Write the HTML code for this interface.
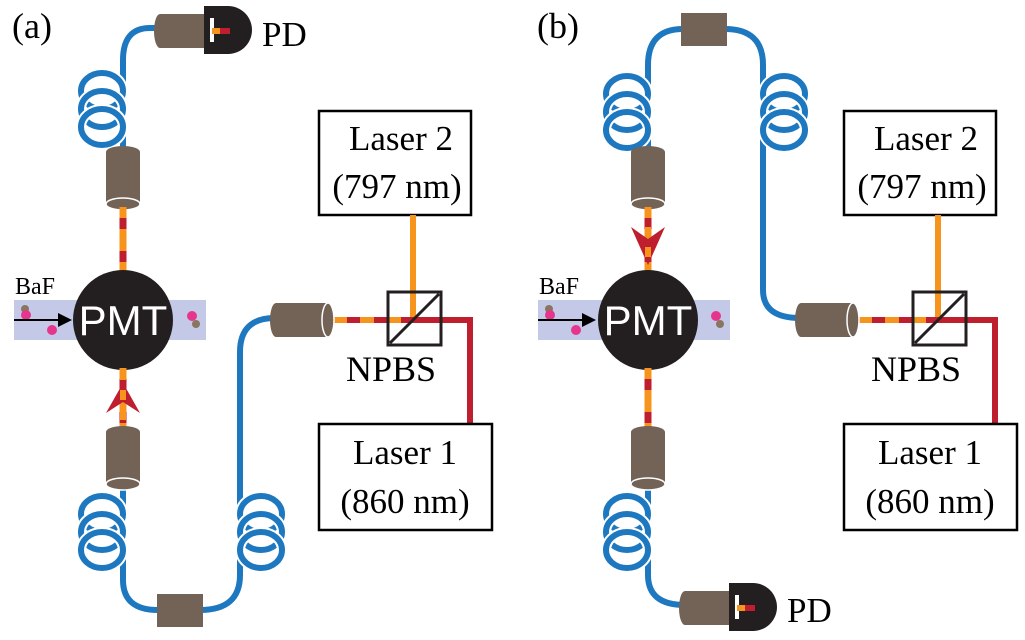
<!DOCTYPE html>
<html><head><meta charset="utf-8"><style>html,body{margin:0;padding:0;background:#fff}svg{display:block}</style></head>
<body>
<svg width="1025" height="640" viewBox="0 0 1025 640" xmlns="http://www.w3.org/2000/svg">
<defs>
<g id="coilL">
 <ellipse cx="-21" cy="0" rx="21" ry="18" fill="none" stroke="#fff" stroke-width="10"/>
 <ellipse cx="-21" cy="0" rx="21" ry="18" fill="none" stroke="#1e78c0" stroke-width="6"/>
 <ellipse cx="-21" cy="18" rx="21" ry="18" fill="none" stroke="#fff" stroke-width="10"/>
 <ellipse cx="-21" cy="18" rx="21" ry="18" fill="none" stroke="#1e78c0" stroke-width="6"/>
 <ellipse cx="-21" cy="36" rx="21" ry="18" fill="none" stroke="#fff" stroke-width="10"/>
 <ellipse cx="-21" cy="36" rx="21" ry="18" fill="none" stroke="#1e78c0" stroke-width="6"/>
</g>
<g id="coilR">
 <use href="#coilL" transform="scale(-1,1)"/>
</g>
<g id="vconn">
 <rect x="-17" y="0" width="34" height="52" fill="#736356"/>
 <ellipse cx="0" cy="0" rx="17" ry="6" fill="#736356"/>
 <ellipse cx="0" cy="52" rx="17" ry="6" fill="#736356" stroke="#fff" stroke-width="1.5"/>
</g>
<g id="hconn">
 <rect x="0" y="-17" width="52" height="34" fill="#736356"/>
 <ellipse cx="0" cy="0" rx="6" ry="17" fill="#736356"/>
 <ellipse cx="52" cy="0" rx="6" ry="17" fill="#736356" stroke="#fff" stroke-width="1.5"/>
</g>
<g id="dashV">
 <line x1="0" y1="0" x2="0" y2="64" stroke="#f7941d" stroke-width="7"/>
 <line x1="0" y1="0" x2="0" y2="64" stroke="#be1e2d" stroke-width="7" stroke-dasharray="0 11 11 11"/>
</g>
<g id="pmt">
 <circle cx="0" cy="0" r="50" fill="#231f20"/>
 <text x="0" y="15" text-anchor="middle" font-family="Liberation Sans, sans-serif" font-size="42" fill="#fff">PMT</text>
</g>
<g id="baf">
 <rect x="0" y="-20" width="192" height="40" fill="#c3c9e6"/>
 <text x="1" y="-26" font-family="Liberation Serif, serif" font-size="24">BaF</text>
 <circle cx="11" cy="-11" r="4" fill="#8a7560"/>
 <circle cx="12" cy="-5" r="5" fill="#e6358d"/>
 <circle cx="38" cy="10" r="5" fill="#e6358d"/>
 <circle cx="178" cy="-4" r="5" fill="#e6358d"/>
 <circle cx="182" cy="4" r="4" fill="#8a7560"/>
 <line x1="0" y1="0" x2="50" y2="0" stroke="#000" stroke-width="2"/>
 <polygon points="44,-7 58,0 44,7" fill="#000"/>
</g>
<g id="pd">
 <path d="M0,-24 H24 A24,24 0 0 1 24,24 H0 Z" fill="#231f20"/>
 <rect x="6" y="-12" width="16" height="24" fill="#fff"/>
 <rect x="10" y="-12" width="12" height="24" fill="#231f20"/>
</g>
<g id="lasers">
 <rect x="319" y="111" width="152" height="104" fill="#fff" stroke="#000" stroke-width="2.5"/>
 <text x="401" y="150" text-anchor="middle" font-family="Liberation Serif, serif" font-size="35">Laser 2</text>
 <text x="397" y="198" text-anchor="middle" font-family="Liberation Serif, serif" font-size="35">(797 nm)</text>
 <line x1="413" y1="215" x2="413" y2="320" stroke="#f7941d" stroke-width="6"/>
 <polyline points="333,320 470,320 470,424" fill="none" stroke="#be1e2d" stroke-width="6"/>
 <line x1="333" y1="320" x2="413" y2="320" stroke="#f7941d" stroke-width="6" stroke-dasharray="14 13"/>
 <rect x="388" y="292" width="53" height="53" fill="none" stroke="#231f20" stroke-width="3"/>
 <line x1="390" y1="343" x2="439" y2="294" stroke="#231f20" stroke-width="3"/>
 <text x="391" y="381" text-anchor="middle" font-family="Liberation Serif, serif" font-size="36">NPBS</text>
 <rect x="319" y="424" width="173" height="106" fill="#fff" stroke="#000" stroke-width="2.5"/>
 <text x="405" y="464" text-anchor="middle" font-family="Liberation Serif, serif" font-size="35">Laser 1</text>
 <text x="405" y="513" text-anchor="middle" font-family="Liberation Serif, serif" font-size="35">(860 nm)</text>
</g>
</defs>

<!-- Panel (a) -->
<text x="12" y="38" font-family="Liberation Serif, serif" font-size="36">(a)</text>
<path d="M160,28 H150 Q123,28 123,60 V155" fill="none" stroke="#1e78c0" stroke-width="6"/>
<use href="#coilL" transform="translate(123,91)"/>
<use href="#hconn" transform="translate(160,31)"/>
<use href="#pd" transform="translate(204,30)"/>
<line x1="212" y1="31" x2="230" y2="31" stroke="#be1e2d" stroke-width="6"/>
<line x1="212" y1="31" x2="220" y2="31" stroke="#f7941d" stroke-width="6"/>
<text x="262" y="46" font-family="Liberation Serif, serif" font-size="35">PD</text>
<use href="#vconn" transform="translate(123,152)"/>
<use href="#dashV" transform="translate(123,207)"/>
<use href="#baf" transform="translate(14,320)"/>
<use href="#pmt" transform="translate(123,320)"/>
<use href="#dashV" transform="translate(123,368)"/>
<polygon points="123,383 140,413 123,402 106,413" fill="#be1e2d"/>
<line x1="123" y1="370" x2="123" y2="432" stroke="#f7941d" stroke-width="6" stroke-dasharray="10 10"/>
<path d="M123,480 V580 Q123,610 158,610" fill="none" stroke="#1e78c0" stroke-width="6"/>
<path d="M200,610 Q240,610 240,575 V352 Q240,318 275,318" fill="none" stroke="#1e78c0" stroke-width="6"/>
<use href="#coilL" transform="translate(123,514)"/>
<use href="#coilR" transform="translate(240,514)"/>
<use href="#vconn" transform="translate(123,432)"/>
<rect x="157" y="594" width="46" height="33" fill="#736356"/>
<use href="#lasers"/>
<use href="#hconn" transform="translate(276,320)"/>

<!-- Panel (b) -->
<text x="537" y="38" font-family="Liberation Serif, serif" font-size="36">(b)</text>
<path d="M683,29 Q648,29 648,65 V155" fill="none" stroke="#1e78c0" stroke-width="6"/>
<path d="M725,29 Q763,29 763,65 V290 Q763,318 800,318" fill="none" stroke="#1e78c0" stroke-width="6"/>
<use href="#coilL" transform="translate(648,94)"/>
<use href="#coilR" transform="translate(763,94)"/>
<rect x="681" y="13" width="46" height="33" fill="#736356"/>
<use href="#vconn" transform="translate(648,152)"/>
<use href="#dashV" transform="translate(648,207)"/>
<polygon points="648,265 665,227 648,239 631,227" fill="#be1e2d"/>
<line x1="648" y1="207" x2="648" y2="270" stroke="#f7941d" stroke-width="6" stroke-dasharray="10 10"/>
<use href="#baf" transform="translate(538,320)"/>
<use href="#pmt" transform="translate(648,320)"/>
<use href="#dashV" transform="translate(648,368)"/>
<path d="M648,480 V575 Q648,605 685,605" fill="none" stroke="#1e78c0" stroke-width="6"/>
<use href="#coilL" transform="translate(648,514)"/>
<use href="#vconn" transform="translate(648,432)"/>
<use href="#hconn" transform="translate(685,608)"/>
<use href="#pd" transform="translate(729,607)"/>
<line x1="737" y1="608" x2="755" y2="608" stroke="#be1e2d" stroke-width="6"/>
<line x1="737" y1="608" x2="745" y2="608" stroke="#f7941d" stroke-width="6"/>
<text x="787" y="622" font-family="Liberation Serif, serif" font-size="35">PD</text>
<g transform="translate(525,0)"><use href="#lasers"/></g>
<use href="#hconn" transform="translate(801,320)"/>
</svg>
</body></html>
